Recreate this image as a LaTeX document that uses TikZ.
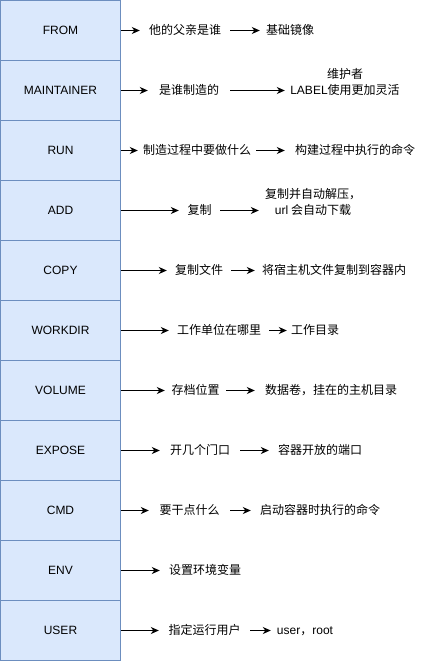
\documentclass[tikz,border=0pt]{standalone}
\usepackage{fontspec}
\setmainfont{Liberation Sans}
\newfontfamily\cjk{Noto Sans CJK SC}
\usepackage{xcolor}
\usetikzlibrary{arrows.meta}
\definecolor{boxfill}{HTML}{DAE8FC}
\definecolor{boxline}{HTML}{6C8EBF}
\newcommand{\eng}[1]{{\rmfamily #1}}

\begin{document}
\begin{tikzpicture}[x=1pt, y=-1pt,
    cmd/.style={draw=boxline, fill=boxfill, line width=1pt, minimum width=120pt,
      minimum height=60pt, inner sep=0pt, font=\fontsize{12}{16}\selectfont},
    desc/.style={inner sep=0pt, align=center, text height=0.8em, text depth=0.05em,
      font=\fontsize{12}{16}\selectfont\cjk},
    link/.style={-{Stealth[length=8pt, width=7pt, inset=2.5pt]}, line width=1pt}]
  \useasboundingbox (0,0) rectangle (426,661);
  % instruction column
  \node[cmd] (from) at (60.5,30.5) {FROM};
  \node[cmd] (maintainer) at (60.5,90.5) {MAINTAINER};
  \node[cmd] (run) at (60.5,150.5) {RUN};
  \node[cmd] (add) at (60.5,210.5) {ADD};
  \node[cmd] (copy) at (60.5,270.5) {COPY};
  \node[cmd] (workdir) at (60.5,330.5) {WORKDIR};
  \node[cmd] (volume) at (60.5,390.5) {VOLUME};
  \node[cmd] (expose) at (60.5,450.5) {EXPOSE};
  \node[cmd] (cmdbox) at (60.5,510.5) {CMD};
  \node[cmd] (env) at (60.5,570.5) {ENV};
  \node[cmd] (user) at (60.5,630.5) {USER};
  %
  \node[desc, minimum width=90pt] (fromwho) at (185,30.5) {他的父亲是谁};
  \node[desc, minimum width=60pt] (frommeans) at (290,30.5) {基础镜像};
  \node[desc, minimum width=82pt] (maintwho) at (189,90.5) {是谁制造的};
  \node[desc, minimum width=120pt] (maintmeans) at (345,90.5) {维护者\\\eng{LABEL}使用更加灵活};
  \node[desc, minimum width=118pt] (runwho) at (197,150.5) {制造过程中要做什么};
  \node[desc, minimum width=140pt] (runmeans) at (355,150.5) {构建过程中执行的命令};
  \node[desc, minimum width=41pt] (addwho) at (199.5,210.5) {复制};
  \node[desc, minimum width=108pt] (addmeans) at (313,210.5) {复制并自动解压，\\\eng{url} 会自动下载};
  \node[desc, minimum width=64pt] (copywho) at (199,270.5) {复制文件};
  \node[desc, minimum width=158pt] (copymeans) at (334,270.5) {将宿主机文件复制到容器内};
  \node[desc, minimum width=100pt] (workwho) at (219,330.5) {工作单位在哪里};
  \node[desc, minimum width=56pt] (workmeans) at (315,330.5) {工作目录};
  \node[desc, minimum width=61pt] (volwho) at (195.5,390.5) {存档位置};
  \node[desc, minimum width=152pt] (volmeans) at (331,390.5) {数据卷，挂在的主机目录};
  \node[desc, minimum width=80pt] (expwho) at (200,450.5) {开几个门口};
  \node[desc, minimum width=102pt] (expmeans) at (320,450.5) {容器开放的端口};
  \node[desc, minimum width=81pt] (cmdwho) at (189.5,510.5) {要干点什么};
  \node[desc, minimum width=138pt] (cmdmeans) at (320,510.5) {启动容器时执行的命令};
  \node[desc, minimum width=90pt] (envwho) at (205,570.5) {设置环境变量};
  \node[desc, minimum width=91pt] (userwho) at (204.5,630.5) {指定运行用户};
  \node[desc, minimum width=68pt] (usermeans) at (305,630.5) {\eng{user}，\eng{root}};
  %
  \draw[link] (from.east) -- (fromwho.west);
  \draw[link] (fromwho.east) -- (frommeans.west);
  \draw[link] (maintainer.east) -- (maintwho.west);
  \draw[link] (maintwho.east) -- (maintwho.east -| maintmeans.west);
  \draw[link] (run.east) -- (runwho.west);
  \draw[link] (runwho.east) -- (runmeans.west);
  \draw[link] (add.east) -- (addwho.west);
  \draw[link] (addwho.east) -- (addwho.east -| addmeans.west);
  \draw[link] (copy.east) -- (copywho.west);
  \draw[link] (copywho.east) -- (copymeans.west);
  \draw[link] (workdir.east) -- (workwho.west);
  \draw[link] (workwho.east) -- (workmeans.west);
  \draw[link] (volume.east) -- (volwho.west);
  \draw[link] (volwho.east) -- (volmeans.west);
  \draw[link] (expose.east) -- (expwho.west);
  \draw[link] (expwho.east) -- (expmeans.west);
  \draw[link] (cmdbox.east) -- (cmdwho.west);
  \draw[link] (cmdwho.east) -- (cmdmeans.west);
  \draw[link] (env.east) -- (envwho.west);
  \draw[link] (user.east) -- (userwho.west);
  \draw[link] (userwho.east) -- (usermeans.west);
\end{tikzpicture}
\end{document}
